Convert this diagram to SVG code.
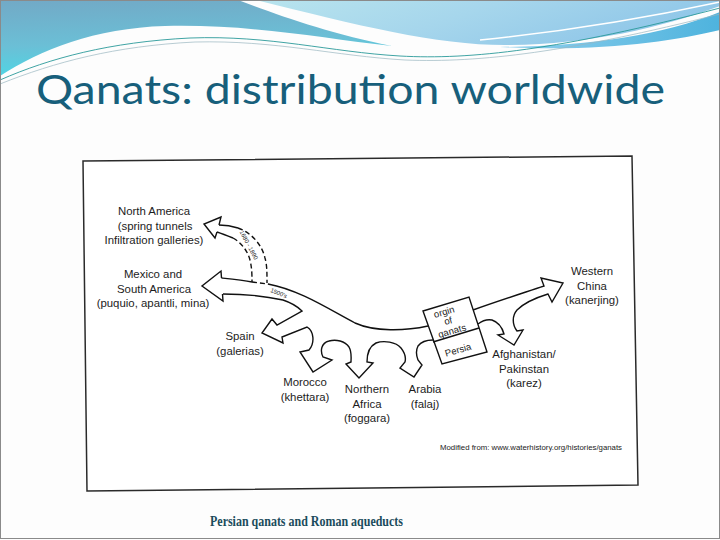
<svg xmlns="http://www.w3.org/2000/svg" width="720" height="540" viewBox="0 0 720 540">
<defs>
<linearGradient id="gTL" x1="0" y1="0" x2="0.15" y2="1">
<stop offset="0" stop-color="#72a9c6"/><stop offset="0.6" stop-color="#6bbfd6"/><stop offset="1" stop-color="#4fd6e4"/>
</linearGradient>
<linearGradient id="gTR" x1="0" y1="0" x2="1" y2="0.3">
<stop offset="0" stop-color="#b8e4ee"/><stop offset="0.5" stop-color="#a6d6ec"/><stop offset="1" stop-color="#8fc6e8"/>
</linearGradient>
<linearGradient id="gB" x1="0" y1="0" x2="1" y2="0">
<stop offset="0" stop-color="#7ec8ea"/><stop offset="1" stop-color="#2fa6d8"/>
</linearGradient>
</defs>
<style>
.t{font-family:"Liberation Sans",Arial,sans-serif;font-size:11.4px;fill:#1c1c1c;text-anchor:middle}
.s{font-family:"Liberation Sans",Arial,sans-serif;font-size:6px;fill:#222;text-anchor:middle}
.b{font-family:"Liberation Sans",Arial,sans-serif;font-size:9.5px;fill:#1c1c1c;text-anchor:middle}
.o{fill:none;stroke:#111;stroke-width:1.4;stroke-linejoin:miter}
.d{stroke-dasharray:5 3}
</style>
<rect x="0" y="0" width="720" height="540" fill="#fdfdfd"/>
<g id="decoration">
<path d="M0,0 H238 C275,14 330,34 392,46 C320,38 250,24 165,26 C95,28 40,50 0,76 Z" fill="url(#gTL)"/>
<path d="M256,0 H720 V6 C660,28 590,44 510,45 C440,46 360,26 256,0 Z" fill="url(#gTR)"/>
<path d="M720,12 C660,36 590,46 500,47 C600,52 670,42 720,30 Z" fill="url(#gB)" opacity="0.85"/>
<path d="M480,40 C580,30 660,15 720,2" fill="none" stroke="#fff" stroke-width="1.5"/>
<path d="M0,80 C50,58 110,42 190,38 C270,35 330,52 400,56 C470,60 560,50 720,8" fill="none" stroke="#2a9a9a" stroke-width="0.9"/>
<path d="M0,84 C55,62 115,46 195,42 C275,40 335,56 405,60 C480,63 570,52 720,14" fill="none" stroke="#9ab6c0" stroke-width="0.7"/>
</g>
<rect x="0.5" y="0.5" width="719" height="538" fill="none" stroke="#8a8a8a" stroke-width="1"/>
<text x="36" y="104" font-family="Lato, 'Open Sans', sans-serif" font-size="41" fill="#175f7b" textLength="629" lengthAdjust="spacingAndGlyphs">Qanats: distribution worldwide</text>
<polygon id="frame" points="83,161 632,156 638,485 87,491" fill="#fff" stroke="#2a2a2a" stroke-width="1.5"/>
<g id="connectors">
<path class="o" d="M223,294 C245,294 265,296 283,300 C292,303 298,307 302,311 L277,325 L272,319 L262,333 L283,343 L282,337 L307,327 C314,331 315,343 309,350 L300,352 L313,372 L332,360 L323,357 C320,351 321,343 329,341 C336,339 345,341 349,347 C352,352 351,358 351,362 L346,364 L359,378 L373,363 L367,362 C367,355 368,347 376,343 C384,340 396,342 401,348 C405,353 406,358 405,362 L400,368 L414,377 L422,365 L418,360 C416,355 416,350 418,346 C421,342 426,340 433,340"/>
<path class="o" d="M221.5,278 L221,271 L202,286 L223,301 L222.5,294"/>
<path class="o" d="M221.5,278 C232,279 243,280 252,282"/>
<path class="o d" d="M252,282 L268,284"/>
<path class="o" d="M268,284 C300,290 330,310 355,323 C375,332 405,331 428,326"/>
<path class="o" d="M219,225 L221,217 L204,224 L215,238 L217,232"/>
<path class="o" d="M219,225 C225,225 232,226 238,228"/>
<path class="o d" d="M238,228 C252,233 262,245 265,258 C267,265 267,272 267,283"/>
<path class="o" d="M217,232 C223,234 228,236 233,238"/>
<path class="o d" d="M233,238 C242,243 248,252 250,260 C252,268 252,276 252,282"/>
<path class="o" d="M473,310 C495,302 520,294 544,286 L541,278 L563,283 L552,302 L548,294 C535,298 523,304 517,310 C512,316 512,324 517,331 L523,330 L514,345 L498,335 L504,334 C502,327 498,322 492,320 C487,319 482,321 478,324"/>
</g>
<g id="origin">
<polygon class="o" points="423,311 469,297 487,352 442,364"/>
<line class="o" x1="433" y1="342" x2="479" y2="328"/>
<text class="b" transform="translate(445,315) rotate(-16)">orgin</text>
<text class="b" transform="translate(449,324) rotate(-16)">of</text>
<text class="b" transform="translate(453,334) rotate(-16)">qanats</text>
<text class="b" transform="translate(459,353) rotate(-16)">Persia</text>
</g>
<g id="dates">
<text class="s" transform="translate(247,246) rotate(62)">1680 - 1890</text>
<text class="s" transform="translate(278,295) rotate(22)">1500's</text>
</g>
<g id="north-america"><text class="t" x="154" y="215">North America</text><text class="t" x="155" y="229.5">(spring tunnels</text><text class="t" x="154" y="244">Infiltration galleries)</text></g>
<g id="mexico"><text class="t" x="153" y="278">Mexico and</text><text class="t" x="154" y="292.5">South America</text><text class="t" x="153" y="307">(puquio, apantli, mina)</text></g>
<g id="spain"><text class="t" x="240" y="340">Spain</text><text class="t" x="240" y="354.5">(galerias)</text></g>
<g id="morocco"><text class="t" x="305" y="386">Morocco</text><text class="t" x="305" y="400.5">(khettara)</text></g>
<g id="northern-africa"><text class="t" x="367" y="393">Northern</text><text class="t" x="367" y="407.5">Africa</text><text class="t" x="367" y="422">(foggara)</text></g>
<g id="arabia"><text class="t" x="425" y="393">Arabia</text><text class="t" x="425" y="407.5">(falaj)</text></g>
<g id="afghanistan"><text class="t" x="524" y="358">Afghanistan/</text><text class="t" x="524" y="372.5">Pakinstan</text><text class="t" x="524" y="387">(karez)</text></g>
<g id="western-china"><text class="t" x="592" y="275">Western</text><text class="t" x="592" y="289.5">China</text><text class="t" x="592" y="304">(kanerjing)</text></g>
<text x="440" y="450" font-family="'Liberation Sans',Arial,sans-serif" font-size="7.5" fill="#222" textLength="182" lengthAdjust="spacingAndGlyphs">Modified from: www.waterhistory.org/histories/ganats</text>
<text x="210" y="526" font-family="'Liberation Serif','Times New Roman',serif" font-size="14" font-weight="bold" fill="#1b4c5c" textLength="193" lengthAdjust="spacingAndGlyphs">Persian qanats and Roman aqueducts</text>
</svg>
